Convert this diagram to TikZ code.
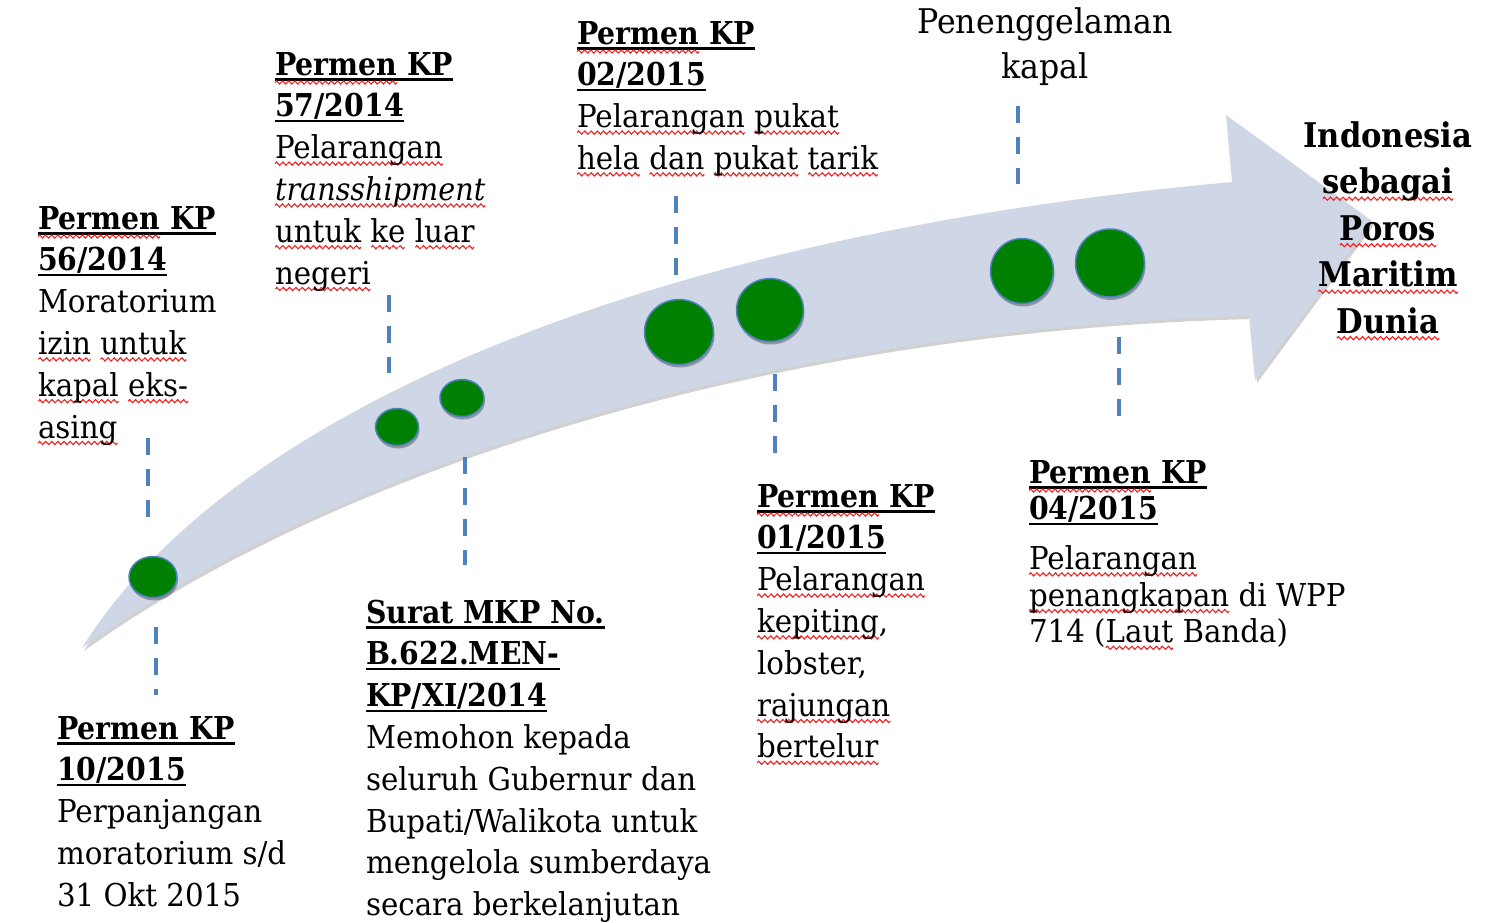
\documentclass[tikz,border=0pt]{standalone}
\usepackage{fontspec}
\setmainfont{DejaVu Serif}[FakeStretch=0.93,BoldFeatures={FakeStretch=0.9},ItalicFeatures={FakeStretch=0.91}]
\usetikzlibrary{shapes.geometric,shadows}
\definecolor{arrowfill}{RGB}{207,215,231}
\definecolor{dashblue}{RGB}{79,129,189}
\definecolor{dotgreen}{RGB}{0,128,0}
\definecolor{wavered}{RGB}{240,30,30}
\newsavebox\wavebox
\sbox\wavebox{\tikz[x=1pt,y=1pt]{\useasboundingbox (0,-0.01) rectangle (6,0.01); \draw[wavered,line width=1.1pt] (0,0)--(1.5,1.6)--(4.5,-1.6)--(6,0);}}
\newcommand\ulh[1]{\setbox0=\hbox{#1}\rlap{\lower5.5pt\hbox{\rule{\wd0}{2.3pt}}}\box0\relax}
\newcommand\wvat[2]{\setbox0=\hbox{#2}\rlap{\lower#1\hbox to\wd0{\xleaders\copy\wavebox\hfill}}\box0\relax}
\newcommand\wv[1]{\wvat{5pt}{#1}}
\newcommand\wvh[1]{\wvat{7.5pt}{#1}}
\newcommand\fstrut{\rule{0pt}{28pt}}
\begin{document}
\begin{tikzpicture}[x=1pt,y=-1pt,
  txt/.style={anchor=north west,align=left,inner sep=0pt,outer sep=0pt,font=\fontsize{31.5}{41.8}\selectfont},
  dot/.style={ellipse,fill=dotgreen,draw=dashblue,line width=1.5pt,inner sep=0pt,
    drop shadow={shadow xshift=1pt,shadow yshift=-3pt,opacity=0.3,fill=black}},
  dsh/.style={dashblue,line width=3.5pt,dash pattern=on 17pt off 14pt}]
\useasboundingbox (0,0) rectangle (1500,922);
\fill[white] (0,0) rectangle (1500,922);
% arrow shadow
\fill[black!40,opacity=0.45] (84,651) .. controls (232,413) and (652,238) .. (1234,185) -- (1228,118) -- (1374,225) -- (1257,383) -- (1251,319) .. controls (722,333) and (302,493) .. (84,651) -- cycle;
% arrow
\fill[arrowfill] (82,648) .. controls (230,410) and (650,235) .. (1232,182) -- (1226,115) -- (1372,221) -- (1255,380) -- (1249,316) .. controls (720,330) and (300,490) .. (82,648) -- cycle;
% dashed markers
\coordinate (d1a) at (148,438); \coordinate (d1b) at (148,517);
\coordinate (d2a) at (156,627); \coordinate (d2b) at (156,695);
\coordinate (d3a) at (389,295); \coordinate (d3b) at (389,373);
\coordinate (d4a) at (465,457); \coordinate (d4b) at (465,565);
\coordinate (d5a) at (676,196); \coordinate (d5b) at (676,275);
\coordinate (d6a) at (775,374); \coordinate (d6b) at (775,454);
\coordinate (d7a) at (1018,106); \coordinate (d7b) at (1018,184);
\coordinate (d8a) at (1119,337); \coordinate (d8b) at (1119,417);
\foreach \i in {1,...,8} {\draw[dsh] (d\i a) -- (d\i b);}
% dots
\node[dot,minimum width=48pt,minimum height=41pt] (cg) at (153,577) {};
\node[dot,minimum width=43pt,minimum height=37pt] (ce) at (397,427) {};
\node[dot,minimum width=44pt,minimum height=37pt] (cf) at (462,398) {};
\node[dot,minimum width=69pt,minimum height=65pt] (ca) at (679,332) {};
\node[dot,minimum width=67pt,minimum height=63pt] (cb) at (770,310) {};
\node[dot,minimum width=63pt,minimum height=65pt] (cc) at (1022,271) {};
\node[dot,minimum width=69pt,minimum height=68pt] (cd) at (1110,263) {};
% texts
\node[txt] (t1) at (38,201) {\fstrut\ulh{\bfseries\wvh{Permen} KP}\\\ulh{\bfseries 56/2014}\\Moratorium\\\wv{izin} \wv{untuk}\\\wv{kapal} \wv{eks-}\\\wv{asing}};
\node[txt] (t2) at (275,47) {\fstrut\ulh{\bfseries\wvh{Permen} KP}\\\ulh{\bfseries 57/2014}\\\wv{Pelarangan}\\\wv{\itshape transshipment}\\\wv{untuk} \wv{ke} \wv{luar}\\\wv{negeri}};
\node[txt] (t3) at (577,16) {\fstrut\ulh{\bfseries\wvh{Permen} KP}\\\ulh{\bfseries 02/2015}\\\wv{Pelarangan} \wv{pukat}\\\wv{hela} \wv{dan} \wv{pukat} \wv{tarik}};
\node[anchor=north,align=center,inner sep=0pt,font=\fontsize{34}{45}\selectfont] (t4) at (1045,3) {\rule{0pt}{30pt}Penenggelaman\\kapal};
\node[anchor=north,align=center,inner sep=0pt,font=\fontsize{34}{46.5}\selectfont\bfseries] (t5) at (1388,117) {\rule{0pt}{30pt}Indonesia\\\wv{sebagai}\\\wv{Poros}\\\wv{Maritim}\\\wv{Dunia}};
\node[txt] (t6) at (57,711) {\fstrut\ulh{\bfseries Permen KP}\\\ulh{\bfseries 10/2015}\\Perpanjangan\\moratorium s/d\\31 Okt 2015};
\node[txt] (t7) at (366,595) {\fstrut\ulh{\bfseries Surat MKP No.}\\\ulh{\bfseries B.622.MEN-}\\\ulh{\bfseries KP/XI/2014}\\Memohon kepada\\seluruh Gubernur dan\\Bupati/Walikota untuk\\mengelola sumberdaya\\secara berkelanjutan};
\node[txt] (t8) at (757,479) {\fstrut\ulh{\bfseries\wvh{Permen} KP}\\\ulh{\bfseries 01/2015}\\\wv{Pelarangan}\\\wv{kepiting},\\lobster,\\\wv{rajungan}\\\wv{bertelur}};
\node[txt,font=\fontsize{31.5}{36.7}\selectfont] (t9) at (1029,455) {\fstrut\ulh{\bfseries\wvh{Permen} KP}\\\ulh{\bfseries 04/2015}\\[13pt]\wv{Pelarangan}\\\wv{penangkapan} di WPP\\714 (\wv{Laut} Banda)};
\end{tikzpicture}
\end{document}
